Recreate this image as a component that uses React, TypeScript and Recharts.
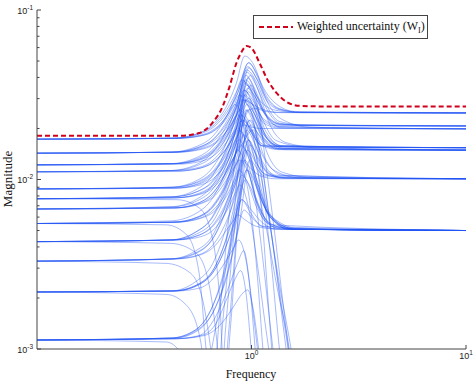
import { Line, LineChart, XAxis, YAxis } from "recharts"

type Pt = [number, number]

// weighted uncertainty bound (red dashed)
const weightFreq = [0.1, 0.46, 0.571, 0.657, 0.732, 0.789, 0.851, 0.898, 0.948, 1.0, 1.09, 1.188, 1.308, 1.457, 1.676, 2.08, 10]
const weightMag = [0.0181, 0.0181, 0.0188, 0.0216, 0.0268, 0.0351, 0.0487, 0.0565, 0.0614, 0.0597, 0.0487, 0.0387, 0.0324, 0.0287, 0.0272, 0.027, 0.027]

// perturbed responses (blue), [frequency, magnitude]
const b01: Pt[] = [[0.1, 0.0173], [0.44, 0.0176], [0.57, 0.0188], [0.67, 0.0215], [0.77, 0.0275], [0.85, 0.037], [0.93, 0.0535], [1.02, 0.048], [1.12, 0.036], [1.3, 0.028], [1.6, 0.0252], [10, 0.0247]]
const b02: Pt[] = [[0.1, 0.0173], [0.44, 0.0175], [0.57, 0.0185], [0.67, 0.0205], [0.77, 0.025], [0.86, 0.032], [0.95, 0.0443], [1.05, 0.038], [1.15, 0.029], [1.35, 0.022], [1.8, 0.0209], [10, 0.0207]]
const b03: Pt[] = [[0.1, 0.0173], [0.44, 0.0175], [0.57, 0.0182], [0.67, 0.0198], [0.77, 0.024], [0.84, 0.031], [0.9, 0.0387], [1.0, 0.033], [1.12, 0.023], [1.3, 0.017], [1.8, 0.0156], [10, 0.0154]]
const b04: Pt[] = [[0.1, 0.0143], [0.42, 0.0145], [0.55, 0.0156], [0.66, 0.018], [0.76, 0.0232], [0.86, 0.032], [0.97, 0.0488], [1.06, 0.042], [1.16, 0.032], [1.35, 0.0262], [1.7, 0.0249], [10, 0.0247]]
const b05: Pt[] = [[0.1, 0.0143], [0.44, 0.0145], [0.57, 0.0153], [0.67, 0.017], [0.77, 0.0205], [0.85, 0.026], [0.92, 0.0337], [1.02, 0.029], [1.15, 0.022], [1.4, 0.0202], [10, 0.0199]]
const b06: Pt[] = [[0.1, 0.0143], [0.45, 0.0145], [0.58, 0.0152], [0.68, 0.0166], [0.77, 0.0195], [0.83, 0.0225], [0.88, 0.0257], [0.97, 0.022], [1.08, 0.0155], [1.25, 0.0115], [1.7, 0.0102], [10, 0.0101]]
const b07: Pt[] = [[0.1, 0.0122], [0.42, 0.0124], [0.55, 0.0134], [0.66, 0.0157], [0.76, 0.0205], [0.86, 0.029], [0.95, 0.043], [1.05, 0.036], [1.16, 0.027], [1.35, 0.0215], [1.8, 0.0208], [10, 0.0207]]
const b08: Pt[] = [[0.1, 0.0122], [0.44, 0.0124], [0.57, 0.013], [0.67, 0.0145], [0.77, 0.0178], [0.84, 0.0228], [0.9, 0.0295], [1.0, 0.025], [1.12, 0.018], [1.35, 0.0152], [10, 0.0149]]
const b09: Pt[] = [[0.1, 0.0122], [0.44, 0.0124], [0.57, 0.0132], [0.67, 0.015], [0.77, 0.0188], [0.88, 0.026], [1.0, 0.036], [1.08, 0.025], [1.18, 0.011], [1.3, 0.0042], [1.45, 0.0013], [1.6, 0.0005]]
const b10: Pt[] = [[0.1, 0.0111], [0.42, 0.0113], [0.55, 0.0122], [0.66, 0.0145], [0.76, 0.019], [0.86, 0.028], [0.96, 0.0463], [1.05, 0.04], [1.16, 0.031], [1.35, 0.026], [1.7, 0.0249], [10, 0.0247]]
const b11: Pt[] = [[0.1, 0.0111], [0.44, 0.0113], [0.57, 0.0118], [0.67, 0.0132], [0.77, 0.0168], [0.85, 0.0235], [0.91, 0.0316], [1.0, 0.027], [1.12, 0.019], [1.35, 0.0158], [10, 0.0154]]
const b12: Pt[] = [[0.1, 0.0111], [0.45, 0.0112], [0.58, 0.0117], [0.68, 0.013], [0.77, 0.0155], [0.83, 0.018], [0.87, 0.0196], [0.95, 0.016], [1.05, 0.0095], [1.2, 0.0062], [1.5, 0.0051], [10, 0.005]]
const b13: Pt[] = [[0.1, 0.0088], [0.42, 0.009], [0.55, 0.0098], [0.66, 0.0118], [0.76, 0.0162], [0.86, 0.025], [0.94, 0.0412], [1.04, 0.034], [1.15, 0.025], [1.35, 0.0205], [10, 0.0199]]
const b14: Pt[] = [[0.1, 0.0088], [0.44, 0.0089], [0.57, 0.0094], [0.67, 0.0107], [0.77, 0.0138], [0.84, 0.019], [0.89, 0.024], [0.98, 0.02], [1.1, 0.0135], [1.3, 0.0106], [10, 0.0101]]
const b15: Pt[] = [[0.1, 0.0088], [0.44, 0.0089], [0.57, 0.0095], [0.67, 0.011], [0.77, 0.0142], [0.88, 0.019], [0.98, 0.0257], [1.06, 0.017], [1.15, 0.0075], [1.25, 0.0028], [1.35, 0.001], [1.5, 0.0004]]
const b16: Pt[] = [[0.1, 0.0077], [0.42, 0.0079], [0.55, 0.0087], [0.66, 0.0106], [0.76, 0.015], [0.87, 0.024], [0.97, 0.0455], [1.06, 0.039], [1.16, 0.03], [1.35, 0.0258], [1.7, 0.0249], [10, 0.0247]]
const b17: Pt[] = [[0.1, 0.0077], [0.44, 0.0078], [0.57, 0.0083], [0.67, 0.0095], [0.77, 0.0125], [0.84, 0.0172], [0.9, 0.0224], [0.99, 0.02], [1.12, 0.0162], [1.35, 0.0151], [10, 0.0149]]
const b18: Pt[] = [[0.1, 0.0077], [0.45, 0.0078], [0.58, 0.0082], [0.68, 0.0092], [0.77, 0.0113], [0.82, 0.0132], [0.86, 0.0149], [0.94, 0.0125], [1.05, 0.0078], [1.2, 0.0056], [1.5, 0.0051], [10, 0.005]]
const b19: Pt[] = [[0.1, 0.0067], [0.42, 0.0069], [0.55, 0.0076], [0.66, 0.0093], [0.76, 0.013], [0.86, 0.021], [0.95, 0.036], [1.05, 0.03], [1.16, 0.024], [1.35, 0.0212], [10, 0.0207]]
const b20: Pt[] = [[0.1, 0.0067], [0.44, 0.0068], [0.57, 0.0072], [0.67, 0.0082], [0.77, 0.0108], [0.85, 0.0145], [0.92, 0.0183], [1.0, 0.016], [1.12, 0.0118], [1.35, 0.0103], [10, 0.0101]]
const b21: Pt[] = [[0.1, 0.0067], [0.44, 0.0068], [0.57, 0.0073], [0.67, 0.0085], [0.77, 0.0112], [0.88, 0.016], [0.99, 0.0224], [1.08, 0.016], [1.18, 0.0075], [1.3, 0.003], [1.45, 0.001], [1.6, 0.0004]]
const b22: Pt[] = [[0.1, 0.0055], [0.42, 0.0057], [0.55, 0.0063], [0.66, 0.0078], [0.76, 0.0112], [0.87, 0.019], [0.96, 0.0397], [1.05, 0.032], [1.16, 0.024], [1.35, 0.0205], [10, 0.0199]]
const b23: Pt[] = [[0.1, 0.0055], [0.44, 0.0056], [0.57, 0.0059], [0.67, 0.0067], [0.77, 0.0087], [0.84, 0.0123], [0.89, 0.016], [0.97, 0.0135], [1.08, 0.0085], [1.25, 0.0058], [1.6, 0.0051], [10, 0.005]]
const b24: Pt[] = [[0.1, 0.0055], [0.43, 0.0056], [0.56, 0.006], [0.67, 0.0071], [0.77, 0.0098], [0.86, 0.016], [0.93, 0.0295], [1.02, 0.025], [1.14, 0.0185], [1.35, 0.0158], [10, 0.0154]]
const b25: Pt[] = [[0.1, 0.0043], [0.42, 0.0044], [0.55, 0.0049], [0.66, 0.006], [0.76, 0.0088], [0.86, 0.016], [0.93, 0.0337], [1.02, 0.027], [1.14, 0.019], [1.35, 0.0153], [10, 0.0149]]
const b26: Pt[] = [[0.1, 0.0043], [0.44, 0.0044], [0.57, 0.0047], [0.67, 0.0054], [0.77, 0.0072], [0.85, 0.0103], [0.9, 0.013], [0.98, 0.0118], [1.1, 0.0105], [1.3, 0.0101], [10, 0.0101]]
const b27: Pt[] = [[0.1, 0.0043], [0.44, 0.0044], [0.57, 0.0047], [0.67, 0.0055], [0.77, 0.0075], [0.88, 0.0115], [0.97, 0.0171], [1.07, 0.0125], [1.2, 0.006], [1.35, 0.0024], [1.55, 0.0009], [1.7, 0.0004]]
const b28: Pt[] = [[0.1, 0.0033], [0.42, 0.0034], [0.55, 0.0038], [0.66, 0.0047], [0.76, 0.0072], [0.87, 0.0135], [0.94, 0.0295], [1.03, 0.027], [1.15, 0.0225], [1.35, 0.0209], [10, 0.0207]]
const b29: Pt[] = [[0.1, 0.0033], [0.44, 0.0034], [0.57, 0.0036], [0.67, 0.0042], [0.77, 0.0058], [0.85, 0.0083], [0.9, 0.0106], [0.98, 0.0092], [1.1, 0.0065], [1.3, 0.0052], [10, 0.005]]
const b30: Pt[] = [[0.1, 0.0033], [0.4, 0.0032], [0.52, 0.0028], [0.6, 0.0018], [0.66, 0.0008], [0.7, 0.0004], [0.76, 0.0014], [0.85, 0.0065], [0.93, 0.0149], [1.02, 0.0125], [1.15, 0.0105], [10, 0.0101]]
const b31: Pt[] = [[0.1, 0.00217], [0.42, 0.0022], [0.55, 0.0025], [0.66, 0.0032], [0.76, 0.0052], [0.87, 0.011], [0.95, 0.0257], [1.04, 0.022], [1.16, 0.0172], [1.35, 0.0157], [10, 0.0154]]
const b32: Pt[] = [[0.1, 0.00217], [0.44, 0.0022], [0.57, 0.0024], [0.67, 0.0029], [0.77, 0.0042], [0.85, 0.006], [0.9, 0.0076], [0.98, 0.0068], [1.1, 0.0057], [1.3, 0.0051], [10, 0.005]]
const b33: Pt[] = [[0.1, 0.00217], [0.44, 0.0022], [0.57, 0.0024], [0.67, 0.0029], [0.77, 0.0042], [0.86, 0.0068], [0.93, 0.0099], [1.0, 0.0062], [1.07, 0.0025], [1.13, 0.001], [1.2, 0.0004]]
const b34: Pt[] = [[0.1, 0.00113], [0.42, 0.00116], [0.55, 0.0013], [0.66, 0.0018], [0.76, 0.0032], [0.87, 0.0075], [0.95, 0.0196], [1.04, 0.016], [1.16, 0.0115], [1.4, 0.0102], [10, 0.0101]]
const b35: Pt[] = [[0.1, 0.00113], [0.44, 0.00116], [0.57, 0.0013], [0.67, 0.0017], [0.77, 0.0027], [0.86, 0.0048], [0.92, 0.0066], [1.0, 0.006], [1.12, 0.0053], [1.35, 0.0051], [10, 0.005]]
const b36: Pt[] = [[0.1, 0.00113], [0.44, 0.00115], [0.57, 0.0012], [0.67, 0.0015], [0.77, 0.0022], [0.86, 0.0032], [0.92, 0.0038], [0.98, 0.0024], [1.04, 0.001], [1.1, 0.0004]]
const b37: Pt[] = [[0.1, 0.00217], [0.4, 0.0021], [0.5, 0.0018], [0.58, 0.0011], [0.63, 0.0005], [0.68, 0.0005], [0.74, 0.0016], [0.84, 0.0075], [0.92, 0.0224], [1.0, 0.019], [1.12, 0.0158], [10, 0.0149]]
const b38: Pt[] = [[0.1, 0.0043], [0.42, 0.0042], [0.55, 0.0037], [0.63, 0.0025], [0.69, 0.0011], [0.73, 0.0005], [0.78, 0.0012], [0.87, 0.0062], [0.95, 0.0114], [1.04, 0.0078], [1.15, 0.0057], [1.4, 0.0051], [10, 0.005]]
const b39: Pt[] = [[0.1, 0.0173], [0.45, 0.0175], [0.58, 0.0181], [0.68, 0.0196], [0.77, 0.0232], [0.83, 0.0275], [0.88, 0.0316], [0.97, 0.027], [1.1, 0.0185], [1.3, 0.0153], [10, 0.0149]]
const b40: Pt[] = [[0.1, 0.0143], [0.43, 0.0145], [0.56, 0.0154], [0.67, 0.0175], [0.77, 0.0222], [0.86, 0.029], [0.94, 0.0387], [1.03, 0.033], [1.15, 0.025], [1.4, 0.021], [10, 0.0207]]
const b41: Pt[] = [[0.1, 0.0122], [0.45, 0.0123], [0.58, 0.0128], [0.68, 0.0141], [0.77, 0.0168], [0.82, 0.0188], [0.86, 0.0201], [0.94, 0.0172], [1.05, 0.0102], [1.2, 0.0065], [1.5, 0.0051], [10, 0.005]]
const b42: Pt[] = [[0.1, 0.0088], [0.43, 0.009], [0.56, 0.0097], [0.67, 0.0114], [0.77, 0.0152], [0.87, 0.022], [0.96, 0.0346], [1.05, 0.028], [1.16, 0.0195], [1.4, 0.0157], [10, 0.0154]]
const b43: Pt[] = [[0.1, 0.0077], [0.43, 0.0079], [0.56, 0.0085], [0.67, 0.0101], [0.77, 0.0138], [0.86, 0.021], [0.93, 0.0316], [1.02, 0.027], [1.14, 0.0215], [1.35, 0.0201], [10, 0.0199]]
const b44: Pt[] = [[0.1, 0.0067], [0.45, 0.0068], [0.58, 0.0072], [0.68, 0.0081], [0.77, 0.0101], [0.83, 0.0118], [0.88, 0.013], [0.96, 0.0112], [1.07, 0.0072], [1.25, 0.0054], [1.6, 0.0051], [10, 0.005]]
const b45: Pt[] = [[0.1, 0.0055], [0.44, 0.0056], [0.57, 0.006], [0.67, 0.007], [0.77, 0.0094], [0.88, 0.0138], [0.99, 0.0196], [1.06, 0.013], [1.13, 0.0052], [1.2, 0.0018], [1.27, 0.0007], [1.35, 0.0003]]
const b46: Pt[] = [[0.1, 0.0043], [0.42, 0.0044], [0.55, 0.0049], [0.66, 0.0061], [0.76, 0.0092], [0.87, 0.0165], [0.96, 0.0257], [1.05, 0.0262], [1.16, 0.0252], [1.35, 0.0248], [10, 0.0247]]
const b47: Pt[] = [[0.1, 0.0033], [0.42, 0.0034], [0.55, 0.0037], [0.66, 0.0045], [0.76, 0.0066], [0.87, 0.0105], [0.96, 0.0149], [1.05, 0.0125], [1.16, 0.0107], [1.4, 0.0102], [10, 0.0101]]
const b48: Pt[] = [[0.1, 0.00217], [0.43, 0.0022], [0.56, 0.0024], [0.67, 0.003], [0.77, 0.0047], [0.86, 0.0085], [0.93, 0.013], [1.01, 0.0098], [1.1, 0.0045], [1.2, 0.0017], [1.3, 0.0007], [1.4, 0.0003]]
const b49: Pt[] = [[0.1, 0.00113], [0.42, 0.00116], [0.55, 0.0013], [0.66, 0.0018], [0.76, 0.003], [0.87, 0.0065], [0.95, 0.0114], [1.04, 0.0095], [1.16, 0.0055], [1.3, 0.0025], [1.5, 0.001], [1.65, 0.0004]]
const b50: Pt[] = [[0.1, 0.00113], [0.45, 0.00115], [0.6, 0.0012], [0.72, 0.0014], [0.83, 0.0018], [0.9, 0.0021], [0.96, 0.00223], [1.02, 0.0017], [1.08, 0.001], [1.15, 0.0005]]
const b51: Pt[] = [[0.1, 0.0055], [0.4, 0.0054], [0.5, 0.0047], [0.57, 0.0028], [0.62, 0.0009], [0.66, 0.0006], [0.71, 0.0016], [0.8, 0.0075], [0.9, 0.024], [0.99, 0.02], [1.12, 0.0158], [10, 0.0149]]
const b52: Pt[] = [[0.1, 0.0173], [0.43, 0.0175], [0.56, 0.0186], [0.67, 0.021], [0.77, 0.026], [0.87, 0.035], [0.97, 0.0488], [1.07, 0.04], [1.18, 0.029], [1.4, 0.0225], [1.9, 0.0203], [10, 0.0199]]
const b53: Pt[] = [[0.1, 0.0173], [0.46, 0.0175], [0.6, 0.0183], [0.7, 0.0205], [0.78, 0.0245], [0.84, 0.0277], [0.92, 0.022], [1.02, 0.014], [1.15, 0.0108], [1.5, 0.0102], [10, 0.0101]]
const b54: Pt[] = [[0.1, 0.0143], [0.43, 0.0145], [0.56, 0.0154], [0.67, 0.0174], [0.77, 0.0215], [0.88, 0.029], [0.99, 0.0412], [1.08, 0.033], [1.2, 0.022], [1.45, 0.0165], [2.0, 0.0155], [10, 0.0154]]
const b55: Pt[] = [[0.1, 0.0143], [0.46, 0.0145], [0.6, 0.0152], [0.7, 0.0168], [0.78, 0.0198], [0.86, 0.024], [0.94, 0.019], [1.04, 0.0105], [1.2, 0.0063], [1.6, 0.0051], [10, 0.005]]
const b56: Pt[] = [[0.1, 0.0122], [0.43, 0.0124], [0.56, 0.0133], [0.67, 0.0153], [0.77, 0.0197], [0.85, 0.027], [0.92, 0.0378], [1.0, 0.0345], [1.1, 0.029], [1.3, 0.0256], [1.7, 0.0248], [10, 0.0247]]
const b57: Pt[] = [[0.1, 0.0122], [0.44, 0.0124], [0.57, 0.0131], [0.67, 0.0148], [0.77, 0.0182], [0.88, 0.024], [0.97, 0.0302], [1.06, 0.024], [1.18, 0.0145], [1.4, 0.011], [2.0, 0.0102], [10, 0.0101]]
const b58: Pt[] = [[0.1, 0.0111], [0.43, 0.0113], [0.56, 0.0121], [0.67, 0.014], [0.77, 0.0182], [0.86, 0.026], [0.93, 0.0368], [1.02, 0.032], [1.14, 0.025], [1.35, 0.0213], [1.8, 0.0208], [10, 0.0207]]
const b59: Pt[] = [[0.1, 0.0111], [0.45, 0.0112], [0.58, 0.0117], [0.68, 0.0129], [0.77, 0.0155], [0.84, 0.0192], [0.89, 0.022], [0.98, 0.0195], [1.1, 0.016], [1.35, 0.015], [10, 0.0149]]
const b60: Pt[] = [[0.1, 0.0088], [0.43, 0.009], [0.56, 0.0096], [0.67, 0.0112], [0.77, 0.0148], [0.85, 0.021], [0.91, 0.0295], [1.0, 0.028], [1.12, 0.026], [1.35, 0.0249], [10, 0.0247]]
const b61: Pt[] = [[0.1, 0.0088], [0.45, 0.0089], [0.58, 0.0093], [0.68, 0.0104], [0.77, 0.0127], [0.83, 0.0153], [0.87, 0.0171], [0.95, 0.0145], [1.06, 0.0088], [1.25, 0.006], [1.7, 0.0051], [10, 0.005]]
const b62: Pt[] = [[0.1, 0.0077], [0.43, 0.0079], [0.56, 0.0085], [0.67, 0.0099], [0.77, 0.0132], [0.87, 0.019], [0.95, 0.0277], [1.04, 0.024], [1.16, 0.0185], [1.4, 0.0158], [10, 0.0154]]
const b63: Pt[] = [[0.1, 0.0077], [0.44, 0.0078], [0.57, 0.0082], [0.67, 0.0093], [0.77, 0.0117], [0.9, 0.016], [1.02, 0.0196], [1.1, 0.014], [1.2, 0.0065], [1.33, 0.0025], [1.5, 0.0009], [1.65, 0.0004]]
const b64: Pt[] = [[0.1, 0.0067], [0.43, 0.0069], [0.56, 0.0075], [0.67, 0.009], [0.77, 0.0125], [0.88, 0.02], [0.97, 0.033], [1.06, 0.026], [1.18, 0.0175], [1.45, 0.0152], [10, 0.0149]]
const b65: Pt[] = [[0.1, 0.0067], [0.44, 0.0068], [0.57, 0.0073], [0.67, 0.0085], [0.77, 0.0115], [0.85, 0.0165], [0.9, 0.021], [0.98, 0.0205], [1.1, 0.02], [10, 0.0199]]
const b66: Pt[] = [[0.1, 0.0055], [0.43, 0.0056], [0.56, 0.006], [0.67, 0.0072], [0.77, 0.01], [0.87, 0.0165], [0.94, 0.0257], [1.03, 0.021], [1.15, 0.0135], [1.4, 0.0106], [10, 0.0101]]
const b67: Pt[] = [[0.1, 0.0055], [0.45, 0.0056], [0.58, 0.0059], [0.68, 0.0066], [0.77, 0.0081], [0.83, 0.0099], [0.87, 0.0114], [0.95, 0.0098], [1.06, 0.0068], [1.25, 0.0054], [10, 0.005]]
const b68: Pt[] = [[0.1, 0.0043], [0.43, 0.0044], [0.56, 0.0048], [0.67, 0.0058], [0.77, 0.0085], [0.89, 0.0145], [0.99, 0.021], [1.08, 0.0185], [1.2, 0.016], [1.45, 0.0155], [10, 0.0154]]
const b69: Pt[] = [[0.1, 0.0043], [0.45, 0.0044], [0.58, 0.0046], [0.68, 0.0052], [0.77, 0.0066], [0.84, 0.0083], [0.88, 0.0093], [0.96, 0.0072], [1.05, 0.0036], [1.15, 0.0015], [1.25, 0.0007], [1.35, 0.0003]]
const b70: Pt[] = [[0.1, 0.0033], [0.43, 0.0034], [0.56, 0.0037], [0.67, 0.0046], [0.77, 0.0068], [0.89, 0.0125], [0.97, 0.0224], [1.06, 0.019], [1.18, 0.0158], [1.45, 0.015], [10, 0.0149]]
const b71: Pt[] = [[0.1, 0.0033], [0.45, 0.0034], [0.58, 0.0036], [0.68, 0.0041], [0.77, 0.0051], [0.83, 0.0058], [0.86, 0.0062], [0.93, 0.0058], [1.05, 0.0053], [1.3, 0.0051], [10, 0.005]]
const b72: Pt[] = [[0.1, 0.00217], [0.43, 0.0022], [0.56, 0.0024], [0.67, 0.003], [0.77, 0.0046], [0.89, 0.0088], [0.98, 0.016], [1.07, 0.0135], [1.2, 0.0108], [1.5, 0.0102], [10, 0.0101]]
const b73: Pt[] = [[0.1, 0.00217], [0.45, 0.0022], [0.58, 0.0023], [0.68, 0.0027], [0.77, 0.0034], [0.83, 0.004], [0.87, 0.0044], [0.94, 0.0034], [1.02, 0.0016], [1.1, 0.0007], [1.18, 0.0003]]
const b74: Pt[] = [[0.1, 0.00113], [0.43, 0.00116], [0.56, 0.0013], [0.67, 0.0017], [0.77, 0.0028], [0.89, 0.0062], [0.98, 0.013], [1.07, 0.0095], [1.2, 0.0062], [1.5, 0.0051], [10, 0.005]]
const b75: Pt[] = [[0.1, 0.00113], [0.45, 0.00115], [0.58, 0.0012], [0.68, 0.0014], [0.77, 0.002], [0.84, 0.0026], [0.89, 0.0029], [0.94, 0.0022], [0.99, 0.0011], [1.05, 0.0004]]
const b76: Pt[] = [[0.1, 0.0077], [0.45, 0.0076], [0.57, 0.0068], [0.65, 0.0048], [0.71, 0.002], [0.75, 0.0006], [0.8, 0.0014], [0.88, 0.0075], [0.97, 0.0171], [1.06, 0.0115], [1.2, 0.0062], [1.6, 0.0051], [10, 0.005]]
const b77: Pt[] = [[0.1, 0.00113], [0.4, 0.0011], [0.48, 0.0009], [0.54, 0.0006], [0.58, 0.0005], [0.63, 0.0008], [0.72, 0.002], [0.82, 0.0052], [0.9, 0.0076], [0.98, 0.0065], [1.12, 0.0053], [10, 0.005]]

const blueCurves = [
  b01, b02, b03, b04, b05, b06, b07, b08, b09, b10, b11, b12, b13, b14, b15, b16, b17,
  b18, b19, b20, b21, b22, b23, b24, b25, b26, b27, b28, b29, b30, b31, b32, b33, b34,
  b35, b36, b37, b38, b39, b40, b41, b42, b43, b44, b45, b46, b47, b48, b49, b50, b51,
  b52, b53, b54, b55, b56, b57, b58, b59, b60, b61, b62, b63, b64, b65, b66, b67, b68,
  b69, b70, b71, b72, b73, b74, b75, b76, b77,
]

const yTicks = [
  0.001, 0.002, 0.003, 0.004, 0.005, 0.006, 0.007, 0.008, 0.009,
  0.01, 0.02, 0.03, 0.04, 0.05, 0.06, 0.07, 0.08, 0.09, 0.1,
]
const yMajor = [0.001, 0.01, 0.1]
const yExp = ["-3", "-2", "-1"]
const xTicks = [1, 10]
const xExp = ["0", "1"]

const weightData = weightFreq.map((f, i) => ({ f, m: weightMag[i] }))
const blueData = blueCurves.map((c) => c.map(([f, m]) => ({ f, m })))

const AXIS = "#444"
const SANS = "Arial, 'Liberation Sans', sans-serif"
const SERIF = "'Times New Roman', 'Liberation Serif', serif"

function LeftTick(props: any) {
  const { x, y, payload } = props
  const i = yMajor.indexOf(payload.value)
  const len = i >= 0 ? 4 : 2.5
  return (
    <g>
      <line x1={x} y1={y} x2={x + len} y2={y} stroke={AXIS} />
      {i >= 0 && (
        <text x={x - 4} y={y + 3.5} textAnchor="end" fontSize={9} fontFamily={SANS} fill="#222">
          <tspan>10</tspan>
          <tspan dy={-4} fontSize={6.5}>{yExp[i]}</tspan>
        </text>
      )}
    </g>
  )
}

function RightTick(props: any) {
  const { x, y, payload } = props
  const len = yMajor.includes(payload.value) ? 4 : 2.5
  return <line x1={x} y1={y} x2={x - len} y2={y} stroke={AXIS} />
}

function BottomTick(props: any) {
  const { x, y, payload } = props
  const i = xTicks.indexOf(payload.value)
  return (
    <g>
      <line x1={x} y1={y} x2={x} y2={y - 4} stroke={AXIS} />
      <text x={x} y={y + 10} textAnchor="middle" fontSize={9} fontFamily={SANS} fill="#222">
        <tspan>10</tspan>
        <tspan dy={-4} fontSize={6.5}>{xExp[i]}</tspan>
      </text>
    </g>
  )
}

function TopTick(props: any) {
  const { x, y } = props
  return <line x1={x} y1={y} x2={x} y2={y + 4} stroke={AXIS} />
}

function YLabel() {
  return (
    <text x={12} y={179} transform="rotate(-90 12 179)" textAnchor="middle" fontSize={13} fontFamily={SERIF} fill="#111">
      Magnitude
    </text>
  )
}

function XLabel() {
  return (
    <text x={251} y={378} textAnchor="middle" fontSize={12} fontFamily={SERIF} fill="#111">
      Frequency
    </text>
  )
}

export default function App() {
  return (
    <div style={{ position: "absolute", left: 0, top: 0, width: 474, height: 382, background: "#fff" }}>
      <LineChart width={474} height={382} margin={{ top: 10, right: 8, bottom: 0, left: 0 }}>
        <XAxis
          dataKey="f"
          type="number"
          scale="log"
          domain={[0.1, 10]}
          allowDataOverflow
          ticks={xTicks}
          interval={0}
          height={33}
          tickSize={0}
          tickMargin={0}
          tickLine={false}
          axisLine={{ stroke: AXIS }}
          tick={<BottomTick />}
          label={<XLabel />}
        />
        <XAxis
          xAxisId="top"
          orientation="top"
          dataKey="f"
          type="number"
          scale="log"
          domain={[0.1, 10]}
          allowDataOverflow
          ticks={xTicks}
          interval={0}
          height={0}
          tickSize={0}
          tickMargin={0}
          tickLine={false}
          axisLine={{ stroke: AXIS }}
          tick={<TopTick />}
        />
        <YAxis
          type="number"
          scale="log"
          domain={[0.001, 0.1]}
          allowDataOverflow
          ticks={yTicks}
          interval={0}
          width={37}
          tickSize={0}
          tickMargin={0}
          tickLine={false}
          axisLine={{ stroke: AXIS }}
          tick={<LeftTick />}
          label={<YLabel />}
        />
        <YAxis
          yAxisId="right"
          orientation="right"
          type="number"
          scale="log"
          domain={[0.001, 0.1]}
          allowDataOverflow
          ticks={yTicks}
          interval={0}
          width={0}
          tickSize={0}
          tickMargin={0}
          tickLine={false}
          axisLine={{ stroke: AXIS }}
          tick={<RightTick />}
        />
        {blueData.map((d, i) => (
          <Line
            key={i}
            data={d}
            dataKey="m"
            type="monotone"
            stroke="#2354f5"
            strokeOpacity={0.5}
            strokeWidth={0.8}
            dot={false}
            activeDot={false}
            isAnimationActive={false}
          />
        ))}
        <Line
          data={weightData}
          dataKey="m"
          type="monotone"
          stroke="#d0021b"
          strokeWidth={2}
          strokeDasharray="5 3"
          dot={false}
          activeDot={false}
          isAnimationActive={false}
        />
      </LineChart>
      <div
        style={{
          position: "absolute",
          left: 253,
          top: 15,
          width: 175,
          height: 24,
          boxSizing: "border-box",
          border: `1px solid ${AXIS}`,
          background: "#fff",
          display: "flex",
          alignItems: "center",
          fontFamily: SERIF,
          fontSize: 12,
          color: "#111",
          whiteSpace: "nowrap",
        }}
      >
        <svg width={43} height={10} style={{ flex: "none" }}>
          <line x1={5} y1={5} x2={39} y2={5} stroke="#d0021b" strokeWidth={2} strokeDasharray="5 3" />
        </svg>
        <span>
          Weighted uncertainty (W<sub style={{ fontSize: 8 }}>I</sub>)
        </span>
      </div>
    </div>
  )
}
